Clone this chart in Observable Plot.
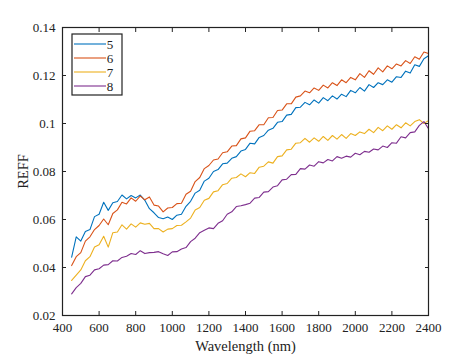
<!DOCTYPE html>
<html>
<head>
<meta charset="utf-8">
<script src="https://cdn.jsdelivr.net/npm/d3@7"></script>
<script src="https://cdn.jsdelivr.net/npm/@observablehq/plot@0.6"></script>
<style>
  html, body { margin: 0; padding: 0; background: #fff; }
  #chart { width: 474px; height: 355px; }
  #chart svg, #chart svg text { font-family: "Liberation Serif", "Times New Roman", serif !important; }
</style>
</head>
<body>
<div id="chart"></div>
<script>
const wavelength = [450,475,500,525,550,575,600,625,650,675,700,725,750,775,800,825,850,875,900,925,950,975,1000,1025,1050,1075,1100,1125,1150,1175,1200,1225,1250,1275,1300,1325,1350,1375,1400,1425,1450,1475,1500,1525,1550,1575,1600,1625,1650,1675,1700,1725,1750,1775,1800,1825,1850,1875,1900,1925,1950,1975,2000,2025,2050,2075,2100,2125,2150,2175,2200,2225,2250,2275,2300,2325,2350,2375,2400];

const series5 = [0.0443,0.0528,0.0510,0.0550,0.0558,0.0612,0.0622,0.0672,0.0638,0.0670,0.0675,0.0702,0.0686,0.0700,0.0690,0.0702,0.0680,0.0645,0.0628,0.0608,0.0603,0.0610,0.0600,0.0618,0.0622,0.0655,0.0676,0.0710,0.0722,0.0760,0.0772,0.0800,0.0808,0.0832,0.0835,0.0855,0.0862,0.0885,0.0892,0.0918,0.0915,0.0942,0.0950,0.0972,0.0980,0.1005,0.1008,0.1035,0.1038,0.1066,0.1068,0.1088,0.1078,0.1098,0.1085,0.1108,0.1095,0.1115,0.1102,0.1122,0.1112,0.1138,0.1128,0.1150,0.1135,0.1162,0.1150,0.1170,0.1162,0.1182,0.1172,0.1195,0.1192,0.1218,0.1210,0.1245,0.1238,0.1270,0.1282];

const series6 = [0.0408,0.0445,0.0462,0.0510,0.0528,0.0558,0.0575,0.0602,0.0578,0.0625,0.0640,0.0672,0.0665,0.0690,0.0676,0.0698,0.0682,0.0694,0.0660,0.0656,0.0632,0.0648,0.0650,0.0666,0.0668,0.0705,0.0718,0.0758,0.0775,0.0812,0.0825,0.0848,0.0852,0.0878,0.0882,0.0906,0.0908,0.0936,0.0940,0.0968,0.0970,0.0995,0.0995,0.1024,0.1025,0.1054,0.1056,0.1082,0.1082,0.1110,0.1115,0.1135,0.1128,0.1148,0.1138,0.1160,0.1148,0.1170,0.1158,0.1182,0.1170,0.1192,0.1182,0.1208,0.1192,0.1220,0.1205,0.1232,0.1215,0.1240,0.1228,0.1248,0.1240,0.1262,0.1250,0.1278,0.1268,0.1298,0.1292];

const series7 = [0.0346,0.0368,0.0390,0.0428,0.0445,0.0485,0.0495,0.0530,0.0485,0.0545,0.0548,0.0578,0.0560,0.0582,0.0568,0.0586,0.0580,0.0584,0.0562,0.0562,0.0548,0.0560,0.0562,0.0575,0.0576,0.0590,0.0606,0.0640,0.0650,0.0680,0.0688,0.0715,0.0720,0.0745,0.0750,0.0772,0.0775,0.0790,0.0778,0.0795,0.0792,0.0818,0.0822,0.0840,0.0835,0.0862,0.0865,0.0890,0.0893,0.0918,0.0920,0.0938,0.0922,0.0940,0.0926,0.0946,0.0930,0.0950,0.0935,0.0954,0.0938,0.0958,0.0950,0.0965,0.0958,0.0976,0.0962,0.0984,0.0970,0.0990,0.0976,0.0995,0.0982,0.1003,0.0990,0.1008,0.1016,0.1000,0.1012];

const series8 = [0.0290,0.0316,0.0334,0.0362,0.0368,0.0390,0.0395,0.0410,0.0412,0.0428,0.0427,0.0442,0.0447,0.0458,0.0454,0.0470,0.0458,0.0462,0.0463,0.0466,0.0457,0.0450,0.0465,0.0466,0.0477,0.0483,0.0508,0.0522,0.0545,0.0555,0.0565,0.0562,0.0584,0.0595,0.0622,0.0632,0.0654,0.0657,0.0662,0.0668,0.0689,0.0692,0.0714,0.0716,0.0735,0.0741,0.0765,0.0768,0.0787,0.0788,0.0812,0.0810,0.0827,0.0822,0.0841,0.0836,0.0850,0.0844,0.0862,0.0855,0.0864,0.0860,0.0876,0.0870,0.0884,0.0880,0.0894,0.0890,0.0906,0.0900,0.0920,0.0918,0.0945,0.0940,0.0962,0.0965,0.0992,0.1008,0.0978];

const seriesNames = ["5", "6", "7", "8"];
const seriesColors = ["#0072BD", "#D95319", "#EDB120", "#7E2F8E"];
const xTicks = [400,600,800,1000,1200,1400,1600,1800,2000,2200,2400];
const yTicks = [0.02,0.04,0.06,0.08,0.10,0.12,0.14];

const allSeries = [series5, series6, series7, series8];
const rows = [];
allSeries.forEach((vals, si) => {
  vals.forEach((v, i) => rows.push({name: seriesNames[si], wl: wavelength[i], v}));
});

const fmtY = d => String(+d.toFixed(2));
const fmtX = d => String(d);
const serif = "'Liberation Serif', 'Times New Roman', serif";

const plot = Plot.plot({
  width: 474,
  height: 355,
  marginLeft: 62,
  marginRight: 46,
  marginTop: 27,
  marginBottom: 40,
  style: {fontFamily: serif, fontSize: "13px", color: "#222", background: "#fff"},
  x: {domain: [400, 2400]},
  y: {domain: [0.02, 0.14]},
  color: {domain: seriesNames, range: seriesColors},
  marks: [
    Plot.line(rows, {x: "wl", y: "v", z: "name", stroke: "name", strokeWidth: 1.1}),
    Plot.frame({stroke: "#222", strokeWidth: 1.2}),
    Plot.axisX({anchor: "bottom", ticks: xTicks, tickSize: -4, tickPadding: 11, tickFormat: fmtX, fontSize: 13, label: null}),
    Plot.axisX({anchor: "bottom", ticks: [], label: "Wavelength (nm)", labelAnchor: "center", labelArrow: "none", labelOffset: 35, fontSize: 14.5}),
    Plot.axisX({anchor: "top", ticks: xTicks, tickSize: -4, tickFormat: () => "", label: null}),
    Plot.axisY({anchor: "left", ticks: yTicks, tickSize: -4, tickPadding: 11, tickFormat: fmtY, fontSize: 13, label: null}),
    Plot.axisY({anchor: "left", ticks: [], label: "REFF", labelAnchor: "center", labelArrow: "none", labelOffset: 45, fontSize: 14.5}),
    Plot.axisY({anchor: "right", ticks: yTicks, tickSize: -4, tickFormat: () => "", label: null})
  ]
});

document.getElementById("chart").appendChild(plot);

// Legend (drawn inside the SVG, top-left of the axes box)
const svg = d3.select(plot);
const lg = svg.append("g").attr("transform", "translate(72,34)");
lg.append("rect").attr("x", 0).attr("y", 0).attr("width", 50).attr("height", 61)
  .attr("fill", "#fff").attr("stroke", "#222").attr("stroke-width", 1.2);
seriesNames.forEach((n, i) => {
  const yy = 10 + i * 14;
  lg.append("line").attr("x1", 2).attr("x2", 34).attr("y1", yy).attr("y2", yy)
    .attr("stroke", seriesColors[i]).attr("stroke-width", 1.1);
  lg.append("text").attr("x", 38).attr("y", yy).attr("dy", "0.35em")
    .attr("font-size", 13).attr("font-family", serif).attr("fill", "#222").text(n);
});
</script>
</body>
</html>
